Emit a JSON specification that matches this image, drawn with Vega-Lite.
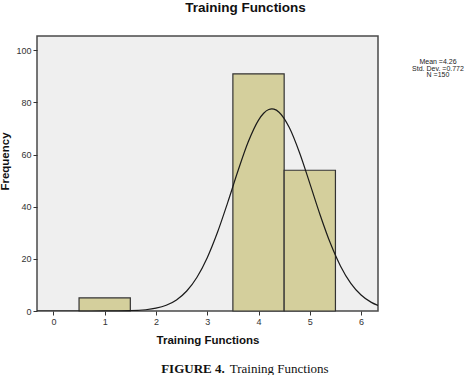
{
  "$schema": "https://vega.github.io/schema/vega-lite/v6.json",
  "width": 341,
  "height": 275,
  "autosize": {"type": "none"},
  "padding": {"left": 37, "top": 36, "right": 96, "bottom": 64},
  "background": "white",
  "title": {"text": "Training Functions", "anchor": "middle", "frame": "group", "dx": 38, "offset": 22, "font": "Liberation Sans", "fontSize": 13.5, "fontWeight": "bold", "color": "#111"},
  "config": {
    "view": {"fill": "#efefef", "stroke": "#4a4a4a", "strokeWidth": 1.5},
    "axis": {"labelFont": "Liberation Sans", "labelFontSize": 9, "labelColor": "#333", "tickColor": "#333", "tickSize": 4, "domain": false, "grid": false, "titleFont": "Liberation Sans", "titleFontSize": 11.5, "titleFontWeight": "bold", "titleColor": "#111", "labelPadding": 2}
  },
  "datasets": {
    "bars": [
      {"bin_start": 0.5, "bin_end": 1.5, "count": 5},
      {"bin_start": 3.5, "bin_end": 4.5, "count": 91},
      {"bin_start": 4.5, "bin_end": 5.5, "count": 54}
    ],
    "curve": [
      {"x": -0.32, "y": 0},
      {"x": 0.5, "y": 0.0005},
      {"x": 1.0, "y": 0.01},
      {"x": 1.5, "y": 0.13},
      {"x": 1.8, "y": 0.48},
      {"x": 2.0, "y": 1.07},
      {"x": 2.2, "y": 2.2},
      {"x": 2.4, "y": 4.26},
      {"x": 2.6, "y": 7.68},
      {"x": 2.8, "y": 12.97},
      {"x": 3.0, "y": 20.47},
      {"x": 3.2, "y": 30.2},
      {"x": 3.4, "y": 41.68},
      {"x": 3.6, "y": 53.79},
      {"x": 3.8, "y": 64.91},
      {"x": 4.0, "y": 73.25},
      {"x": 4.1, "y": 75.87},
      {"x": 4.2, "y": 77.29},
      {"x": 4.26, "y": 77.52},
      {"x": 4.3, "y": 77.42},
      {"x": 4.4, "y": 76.26},
      {"x": 4.6, "y": 70.36},
      {"x": 4.8, "y": 60.7},
      {"x": 5.0, "y": 48.97},
      {"x": 5.2, "y": 36.94},
      {"x": 5.4, "y": 26.05},
      {"x": 5.6, "y": 17.19},
      {"x": 5.8, "y": 10.6},
      {"x": 6.0, "y": 6.12},
      {"x": 6.2, "y": 3.3},
      {"x": 6.33, "y": 2.13}
    ]
  },
  "layer": [
    {
      "data": {"name": "bars"},
      "mark": {"type": "bar", "fill": "#d4cf9c", "stroke": "#333", "strokeWidth": 1.2},
      "encoding": {
        "x": {"field": "bin_start", "type": "quantitative", "title": "Training Functions",
              "scale": {"domain": [-0.32, 6.33], "nice": false, "zero": false},
              "axis": {"values": [0, 1, 2, 3, 4, 5, 6], "format": "d", "titlePadding": 8}},
        "x2": {"field": "bin_end"},
        "y": {"field": "count", "type": "quantitative", "title": "Frequency",
              "scale": {"domain": [0, 105.5], "nice": false},
              "axis": {"values": [0, 20, 40, 60, 80, 100], "titleX": -32, "titleY": 125, "titleBaseline": "middle", "titleAlign": "center"}},
        "y2": {"datum": 0}
      }
    },
    {
      "data": {"name": "curve"},
      "mark": {"type": "line", "color": "#1a1a1a", "strokeWidth": 1.2, "interpolate": "monotone", "clip": true},
      "encoding": {
        "x": {"field": "x", "type": "quantitative", "title": "Training Functions"},
        "y": {"field": "y", "type": "quantitative", "title": "Frequency"}
      }
    },
    {
      "data": {"values": [{"t": ["Mean =4.26", "Std. Dev. =0.772", "N =150"]}]},
      "mark": {"type": "text", "font": "Liberation Sans", "fontSize": 7, "lineHeight": 6.5, "align": "center", "baseline": "middle", "color": "#222"},
      "encoding": {
        "x": {"datum": 7.5, "type": "quantitative"},
        "y": {"datum": 95.5, "type": "quantitative"},
        "text": {"field": "t"}
      }
    },
    {
      "data": {"values": [{"t": "FIGURE 4."}]},
      "mark": {"type": "text", "font": "Liberation Serif", "fontSize": 13, "fontWeight": "bold", "align": "right", "baseline": "alphabetic", "dx": -2, "color": "#111"},
      "encoding": {
        "x": {"datum": 3.38, "type": "quantitative"},
        "y": {"datum": -23.8, "type": "quantitative"},
        "text": {"field": "t"}
      }
    },
    {
      "data": {"values": [{"t": "Training Functions"}]},
      "mark": {"type": "text", "font": "Liberation Serif", "fontSize": 13, "align": "left", "baseline": "alphabetic", "dx": 3, "color": "#111"},
      "encoding": {
        "x": {"datum": 3.38, "type": "quantitative"},
        "y": {"datum": -23.8, "type": "quantitative"},
        "text": {"field": "t"}
      }
    }
  ]
}
